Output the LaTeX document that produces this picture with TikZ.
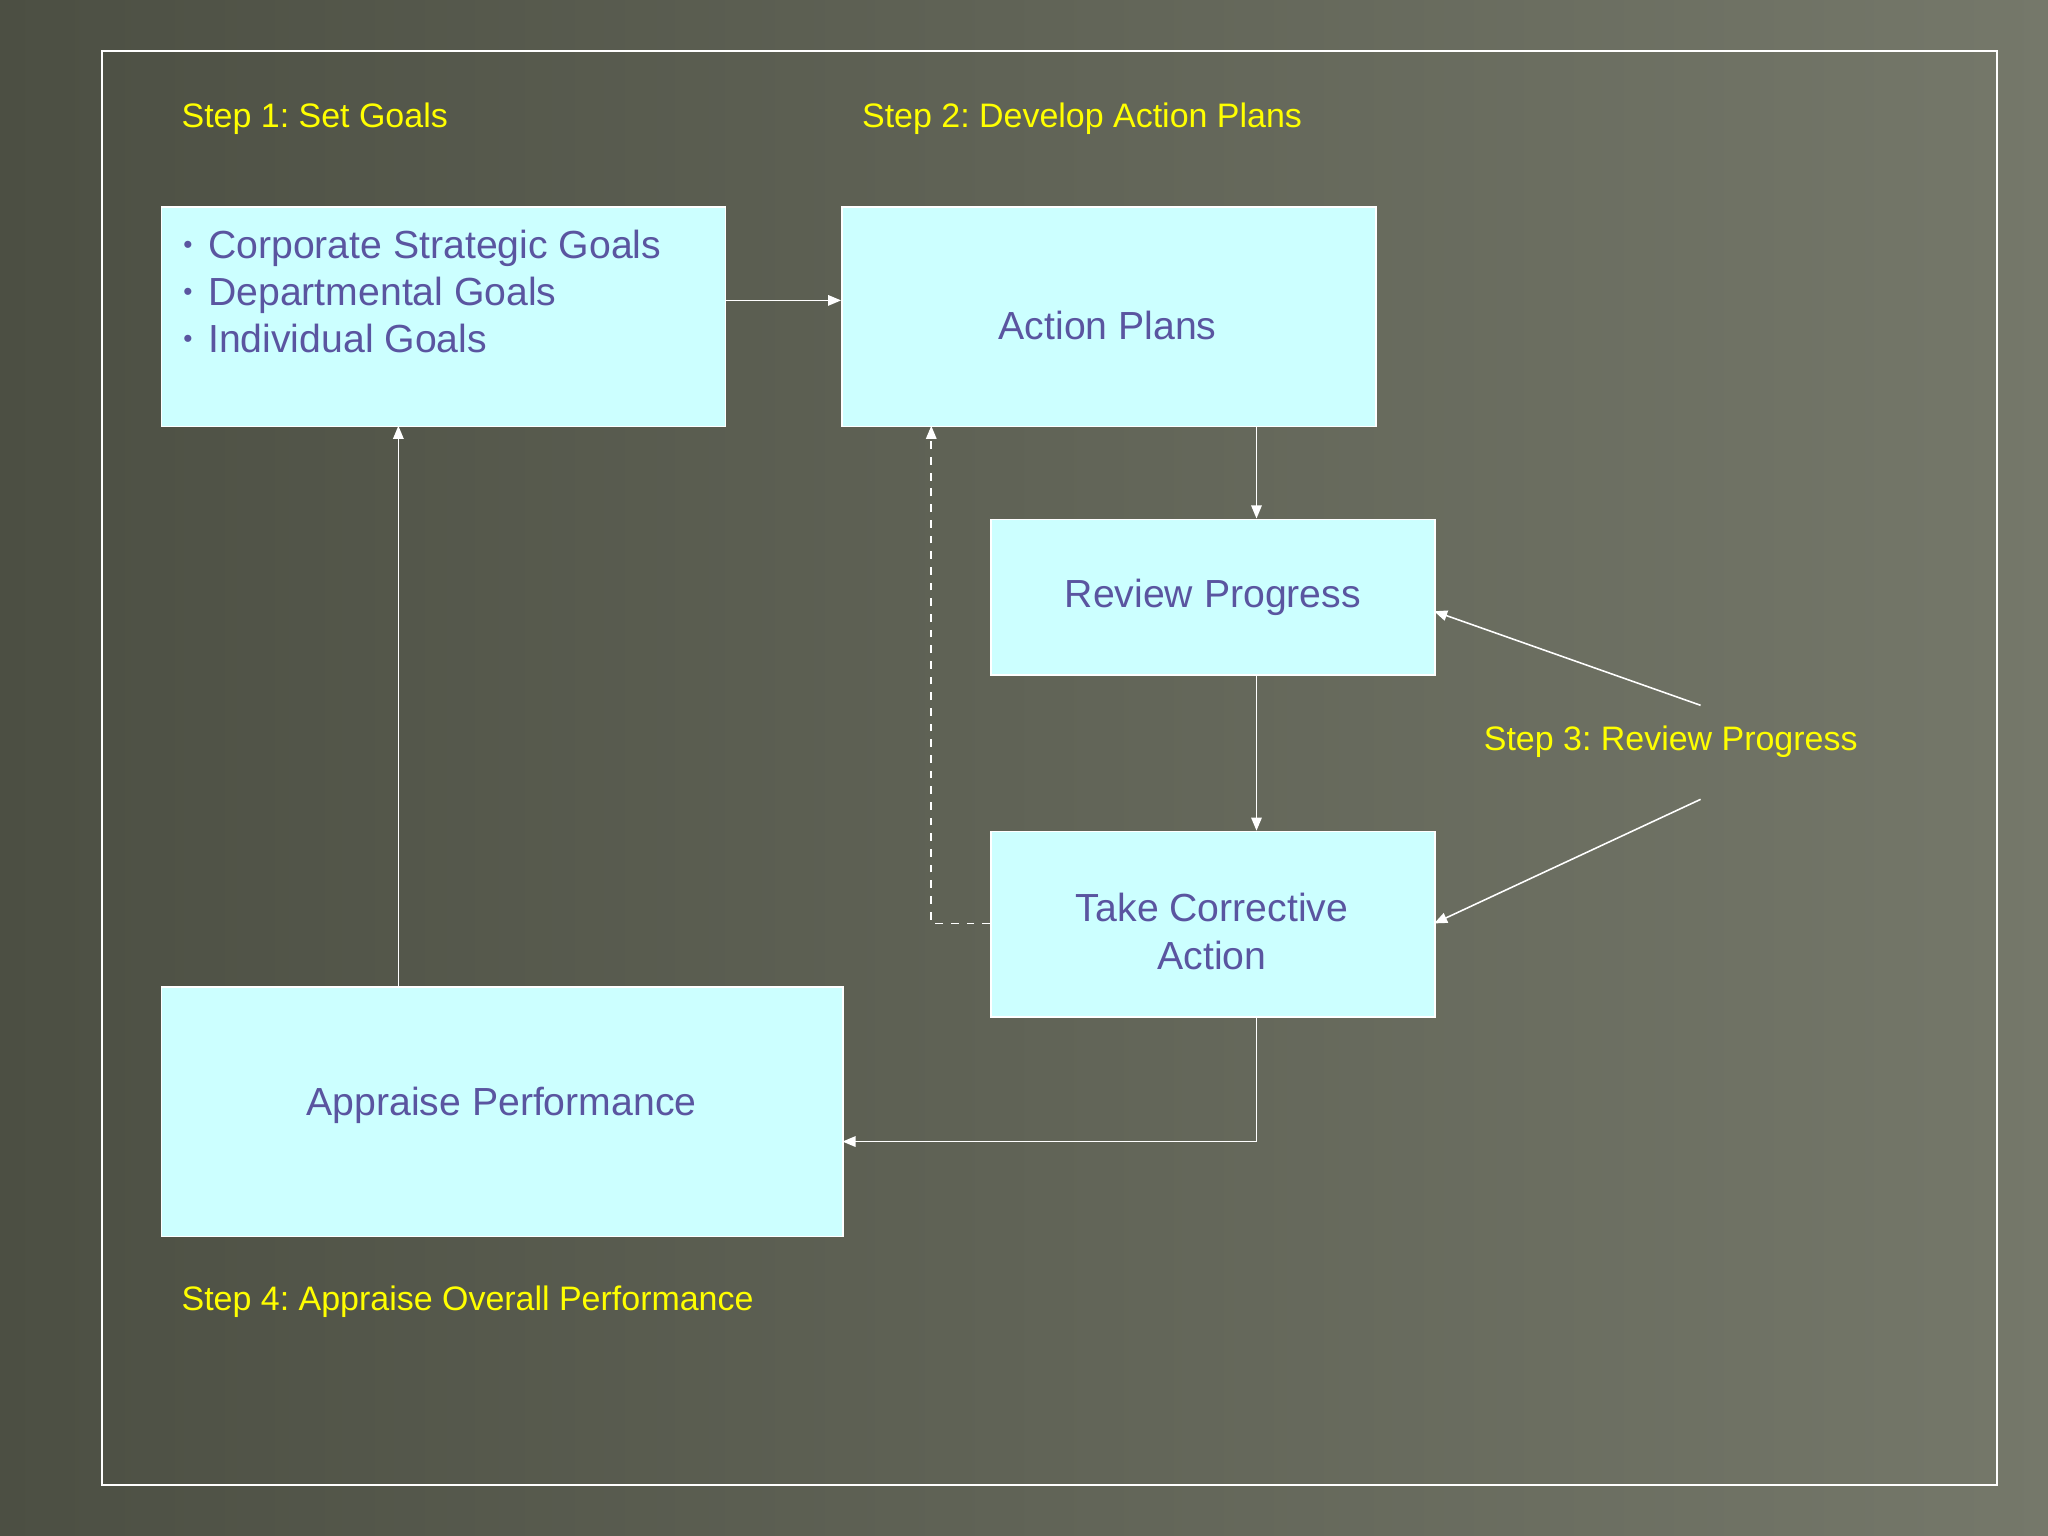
\documentclass[tikz,border=0pt]{standalone}
\usepackage{fontspec}
\setmainfont{Liberation Sans}
\usetikzlibrary{arrows.meta}
\definecolor{boxfill}{HTML}{CCFFFF}
\definecolor{boxtext}{HTML}{5A55A0}
\definecolor{steplab}{HTML}{FFFF00}
\definecolor{bgl}{HTML}{4C4F43}
\definecolor{bgr}{HTML}{75786A}
\tikzset{
  x=0.5pt,y=-0.5pt,
  box/.style={draw=white,line width=0.6pt,fill=boxfill,text=boxtext,font=\fontsize{15}{18.5}\selectfont,align=center},
  btxt/.style={text=boxtext,font=\fontsize{15}{18.5}\selectfont,align=center},
  lab/.style={text=steplab,font=\fontsize{13}{15}\selectfont,anchor=west},
  conn/.style={draw=white,line width=0.6pt,-{Triangle[width=4pt,length=5pt]}},
}
\newcommand{\smbul}{{\fontsize{10}{10}\selectfont\raisebox{2pt}{•}\hspace{6pt}}}
\begin{document}
\frenchspacing
\begin{tikzpicture}
\shade[left color=bgl,right color=bgr] (0,0) rectangle (1568,1176);
\useasboundingbox (0,0) rectangle (1568,1176);
\draw[white,line width=0.6pt] (78,39) rectangle (1529,1137);
\node[box,minimum width=216pt,minimum height=84pt,anchor=north west,inner sep=0pt] (goals) at (123,158) {};
\node[text=boxtext,font=\fontsize{15}{18}\selectfont,align=left,anchor=north west,inner sep=0pt] (goalst) at (140,176) {\smbul Corporate Strategic Goals\\\smbul Departmental Goals\\\smbul Individual Goals};
\node[box,minimum width=204.5pt,minimum height=84pt,anchor=north west] (ap) at (644,158) {};
\node[btxt] (apt) at (848,249) {Action Plans};
\node[box,minimum width=170pt,minimum height=59.5pt,anchor=north west] (rp) at (758,397) {Review Progress};
\node[box,minimum width=170pt,minimum height=71pt,anchor=north west] (tc) at (758,636) {};
\node[btxt] (tct) at (928,713) {Take Corrective\\Action};
\node[box,minimum width=261pt,minimum height=95.5pt,anchor=north west] (apr) at (123,755) {};
\node[btxt] (aprt) at (384,846) {Appraise Performance};
\node[lab] (s1) at (132,91) {Step 1: Set Goals};
\node[lab] (s2) at (653,91) {Step 2: Develop Action Plans};
\node[lab] (s3) at (1129,568) {Step 3: Review Progress};
\node[lab] (s4) at (132,997) {Step 4: Appraise Overall Performance};
\coordinate (g1) at (555,230); \coordinate (a1) at (644,230);
\draw[conn] (g1) -- (a1);
\coordinate (a2) at (962,326); \coordinate (r1) at (962,397);
\draw[conn] (a2) -- (r1);
\coordinate (r2) at (962,516); \coordinate (t1) at (962,636);
\draw[conn] (r2) -- (t1);
\coordinate (t2) at (962,778); \coordinate (p1) at (645,874);
\draw[conn] (t2) |- (p1);
\coordinate (p2) at (305,755); \coordinate (g2) at (305,326);
\draw[conn] (p2) -- (g2);
\coordinate (t3) at (758,707); \coordinate (a3) at (713,326);
\draw[conn,dashed] (t3) -| (a3);
\coordinate (l1) at (1302,540); \coordinate (r3) at (1098,468);
\coordinate (l2) at (1302,612); \coordinate (t4) at (1098,707);
\draw[conn] (l1) -- (r3);
\draw[conn] (l2) -- (t4);
\end{tikzpicture}
\end{document}
